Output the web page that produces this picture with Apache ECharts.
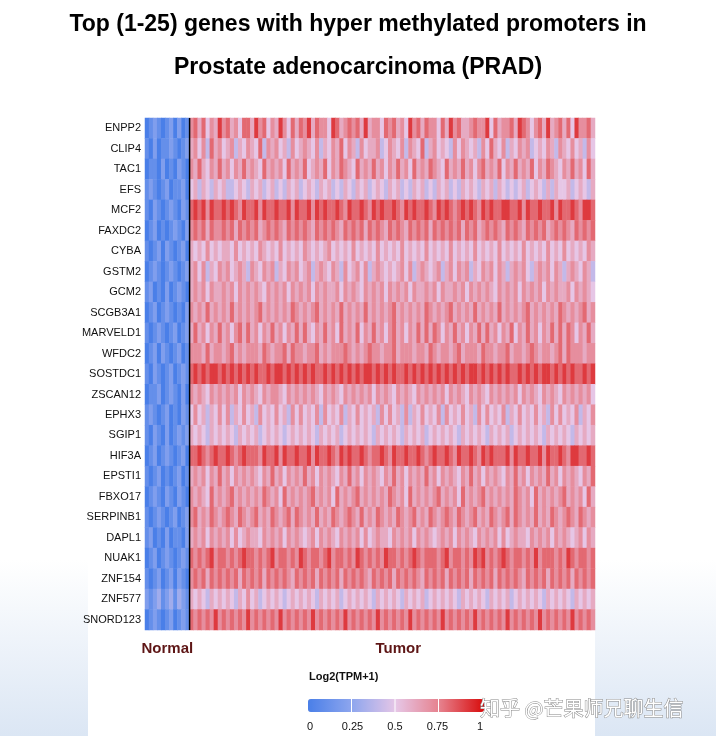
<!DOCTYPE html>
<html><head><meta charset="utf-8">
<script src="https://cdn.jsdelivr.net/npm/echarts@6/dist/echarts.min.js"></script>
<style>
html,body{margin:0;padding:0;}
body{width:716px;height:736px;background:linear-gradient(to bottom,#ffffff 0px,#ffffff 560px,#dbe6f4 736px);}
#c{width:716px;height:736px;}
</style></head><body><div id="c"></div>
<script>
const genes = ["ENPP2","CLIP4","TAC1","EFS","MCF2","FAXDC2","CYBA","GSTM2","GCM2","SCGB3A1","MARVELD1","WFDC2","SOSTDC1","ZSCAN12","EPHX3","SGIP1","HIF3A","EPSTI1","FBXO17","SERPINB1","DAPL1","NUAK1","ZNF154","ZNF577","SNORD123"];
const normalCount = 11;
const tumorCount = 100;
// per-row digit strings (0-9 -> value/10): 11 normal + 100 tumor samples
const normalRows = [
"01210120201","10201121012","01102010210","12101201120","10210121021","01201012102","10120210120","01210121012",
"12010201210","01201210102","10121012012","01202101201","10210120121","01120121020","12101201021","10210201212",
"01201210120","10120101201","01210210210","10121012012","12010201102","01201210121","10120120210","21231231321","01210120121"];
const tumorRows = [
"7868576978675886978576975868796877598678786967758786759786877586978667877958677869875786967868597786",
"6757486756746576584767564756765746576857647566745765747658467565475765647586574657674565764765756475",
"7686576867576867658676758676856768576876586768675768675867687658676867578676857686768576876576867586",
"5646546564456546564564546564565465645465465645654656454656454656454656546564654545645654646556456546",
"8989798898987988979889889798897989889879889879898898798988987989878989879898899889798898897988987998",
"7878687787868787867878768787876878787687878687876878768787868787878687867878768787687878678787687878",
"6565756566575656576565756565765656756565756565756565756565756565756565756565756565756565756575656576",
"6757465767567647657674657675674676576475675746765656757467656746757674657675764676754676757646765764",
"6767576676757676765767675767675767667576765767675767675766767576676757676765767675767675767667576765",
"7676867676867676786767676876767867676867676867676786767676876767867676867676867676786767676876767867",
"6867576867578686757686757686865768675867685768675786757686868757686757686867576857686757686868757686",
"7776867767867677768767786877677867677787676787767786777677687677678677768776778677678767767868777677",
"8989899898989898988989989898989889898989898998989898898989898989898989989898989889898989989898988989",
"7676576767675767657677657676767657676576767675767657676576767675767657676576767675767657676576767675",
"5756465757465756475657564757565747565746575656475756474657565747565756475756574657565756475756574657",
"6565465656546565645656545656565465656456565654656565465656456565654656565465656456565654656565465656",
"8898789889878988879889798898897988987989889878898798898898789889879889879898889798898897988987998898",
"6767576867576767657686757676867576765768675767657686757676867576765768675767657686757676867576765768",
"7676586767867676768767586767678676758676786767676876758676767867675867678676767687675867676786767586",
"7867687678768767867687678687676867687678768676876768767867687678768767867687678687676867687678768767",
"6767576767575676657676757676567576765767675756766576767576765676757676576767575676657676757676567576",
"8787897887878988787897887879878878978878798787879887878987888789788787989787898788787978887879878878",
"7878687878786878786878787687878687878687878768787868787876878786878786878786878787687878687878687878",
"6565465656546575645656545656565465656456565654656565465656456565654656565465656456565654656565465656",
"8787879787878797878787978787879787878797878787978787879787878797878787978787879787878797878787978787"];

const cols = [];
for (let i = 0; i < normalCount + tumorCount; i++) cols.push(i);
const data = [];
genes.forEach((g, r) => {
  const s = normalRows[r] + tumorRows[r];
  for (let c = 0; c < s.length; c++) data.push([c, r, +s[c] / 10]);
});

const chart = echarts.init(document.getElementById('c'));
const font = "'Liberation Sans Narrow','Liberation Sans',Arial,sans-serif";
chart.setOption({
  animation: false,
  title: [
    {text: "Top (1-25) genes with hyper methylated promoters in\nProstate adenocarcinoma (PRAD)", left: 'center', top: -2,
     textStyle: {fontSize: 23, fontWeight: 'bold', color: '#000', fontFamily: "'Liberation Sans',Arial,sans-serif", lineHeight: 43}}
  ],
  grid: {left: 145, right: 121, top: 118, bottom: 106},
  xAxis: {type: 'category', data: cols, show: false},
  yAxis: {type: 'category', data: genes, inverse: true, axisLine: {show: false}, axisTick: {show: false},
    axisLabel: {fontSize: 11, color: '#111', fontFamily: font, margin: 4}},
  visualMap: {type: 'continuous', min: 0, max: 1, orient: 'horizontal', left: 293, top: 684,
    itemWidth: 13, itemHeight: 176, calculable: false, text: null, showLabel: false,
    inRange: {color: ['#4a7fe8', '#8ea6ee', '#e6c6e6', '#e6808c', '#d80c0c']}, textStyle: {color: 'transparent'}},
  series: [{type: 'heatmap', data: data, itemStyle: {borderWidth: 0}}],
  graphic: []
});

const pL = chart.convertToPixel({xAxisIndex: 0}, 0);
const pR = chart.convertToPixel({xAxisIndex: 0}, 1);
const bw = pR - pL;
const sepX = chart.convertToPixel({xAxisIndex: 0}, normalCount) - bw / 2;
const nX = (pL - bw / 2 + sepX) / 2;
const tX = chart.convertToPixel({xAxisIndex: 0}, normalCount + tumorCount / 2) + 4;
const ticks = ["0", "0.25", "0.5", "0.75", "1"];
const g = [
  {type: 'rect', z: -10, shape: {x: 88, y: 100, width: 507, height: 636}, style: {fill: '#fff'}},
  {type: 'line', z: 100, shape: {x1: sepX, y1: 118, x2: sepX, y2: 630}, style: {stroke: '#000', lineWidth: 1.5}},
  {type: 'text', x: nX, y: 649, style: {text: 'Normal', fill: '#5e1616', font: "bold 15px " + font, align: 'center', verticalAlign: 'middle'}},
  {type: 'text', x: tX, y: 649, style: {text: 'Tumor', fill: '#5e1616', font: "bold 15px " + font, align: 'center', verticalAlign: 'middle'}},
  {type: 'text', x: 309, y: 677, style: {text: 'Log2(TPM+1)', fill: '#111', font: "bold 11px " + font, verticalAlign: 'middle'}},
  {type: 'text', x: 480, y: 708, z: 200, style: {text: '知乎 @芒果师兄聊生信', fill: '#ffffff', stroke: '#888', lineWidth: 1, font: "20px 'Noto Sans CJK SC',sans-serif", verticalAlign: 'middle'}}
];
ticks.forEach((t, i) => {
  const x = 310 + i * 170 / 4;
  g.push({type: 'text', x: x, y: 727, style: {text: t, fill: '#111', font: "11px " + font, align: 'center', verticalAlign: 'middle'}});
  if (i > 0 && i < 4) g.push({type: 'line', z: 150, shape: {x1: 308 + i * 174 / 4, y1: 699, x2: 308 + i * 174 / 4, y2: 712}, style: {stroke: '#fff', lineWidth: 1}});
});
chart.setOption({graphic: g});
</script></body></html>
